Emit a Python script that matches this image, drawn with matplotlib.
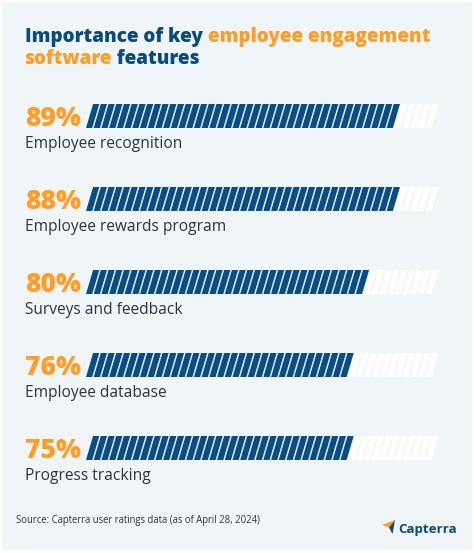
import matplotlib
matplotlib.use("Agg")
import matplotlib.pyplot as plt
from matplotlib.patches import Polygon, Rectangle
import matplotlib.transforms as mtransforms

# ---- data ----
categories = ["Employee recognition", "Employee rewards program", "Surveys and feedback",
              "Employee database", "Progress tracking"]
values = [89, 88, 80, 76, 75]
value_labels = ["89%", "88%", "80%", "76%", "75%"]
title_parts = [("Importance of key ", "navy"), ("employee engagement", "orange")]
title_parts2 = [("software", "orange"), (" features", "navy")]
source_text = "Source: Capterra user ratings data (as of April 28, 2024)"

# ---- style ----
W, H = 474, 553
DPI = 100
BG = "#f0f5f7"
NAVY = "#0b4a7d"
BAR = "#094d84"
ORANGE = "#ff9d28"
TEXT = "#2b3540"
FONT = "Open Sans"
colors = {"navy": NAVY, "orange": ORANGE}

fig = plt.figure(figsize=(W / DPI, H / DPI), dpi=DPI)
fig.patch.set_facecolor("white")
fig.patches.append(Rectangle((2 / W, 3 / H), (W - 4) / W, (H - 5) / H,
                             transform=fig.transFigure, facecolor=BG, edgecolor="none", zorder=-5))

def fy(ypx):
    return 1 - ypx / H

renderer = fig.canvas.get_renderer()

def draw_parts(parts, x0, ypx, size):
    x = x0
    for s, c in parts:
        t = fig.text(x / W, fy(ypx), s, fontsize=size, fontweight=800, family=FONT,
                     color=colors[c], va="baseline", ha="left")
        bb = t.get_window_extent(renderer=renderer)
        x += bb.width

draw_parts(title_parts, 25, 42, 13.6)
draw_parts(title_parts2, 25, 64, 13.6)

# ---- bars axes ----
top_px, row_h = 74.5, 83
n = len(values)
x_left, x_right = 86, 440
ax = fig.add_axes([x_left / W, fy(top_px + n * row_h), (x_right - x_left) / W, n * row_h / H])
ax.set_zorder(2)
ax.set_xlim(0, 100)
ax.set_ylim(n - 0.5, -0.5)
ax.axis("off")

N = 45
slant = 2.0
pitch = (100 - slant) / N
gap = 0.42
bh = 24 / row_h

for i, v in enumerate(values):
    filled = round(v / 100 * N)
    y0, y1 = i + bh / 2, i - bh / 2  # bottom, top (inverted axis)
    for k in range(N):
        xb = k * pitch
        poly = [(xb, y0), (xb + pitch - gap, y0), (xb + pitch - gap + slant, y1), (xb + slant, y1)]
        ax.add_patch(Polygon(poly, closed=True, facecolor=BAR if k < filled else "white",
                             edgecolor="none"))

blend = mtransforms.blended_transform_factory(fig.transFigure, ax.transData)
for i, (lab, cat) in enumerate(zip(value_labels, categories)):
    t1 = blend + mtransforms.ScaledTranslation(0, -0.095, fig.dpi_scale_trans)
    fig.text(25 / W, i, lab, transform=t1, fontsize=19, fontweight=800, family=FONT,
             color=ORANGE, va="baseline", ha="left")
    t2 = blend + mtransforms.ScaledTranslation(0, -0.32, fig.dpi_scale_trans)
    fig.text(25 / W, i, cat, transform=t2, fontsize=11.2, family=FONT,
             color=TEXT, va="baseline", ha="left")

# ---- footer ----
fig.text(16 / W, fy(523), source_text, fontsize=6.85, family=FONT, color=TEXT,
         va="baseline", ha="left")

def P(x, y):
    return (x / W, fy(y))

fig.patches.append(Polygon([P(382, 525), P(395, 520), P(389, 527.5)], closed=True,
                           transform=fig.transFigure, facecolor=ORANGE, edgecolor="none"))
fig.patches.append(Polygon([P(389, 527.5), P(395, 520), P(392.5, 534)], closed=True,
                           transform=fig.transFigure, facecolor=NAVY, edgecolor="none"))
fig.text(398 / W, fy(533), "Capterra", fontsize=9.6, fontweight="bold", family=FONT,
         color=NAVY, va="baseline", ha="left")

fig.savefig("out.png", dpi=DPI, facecolor=fig.get_facecolor())
